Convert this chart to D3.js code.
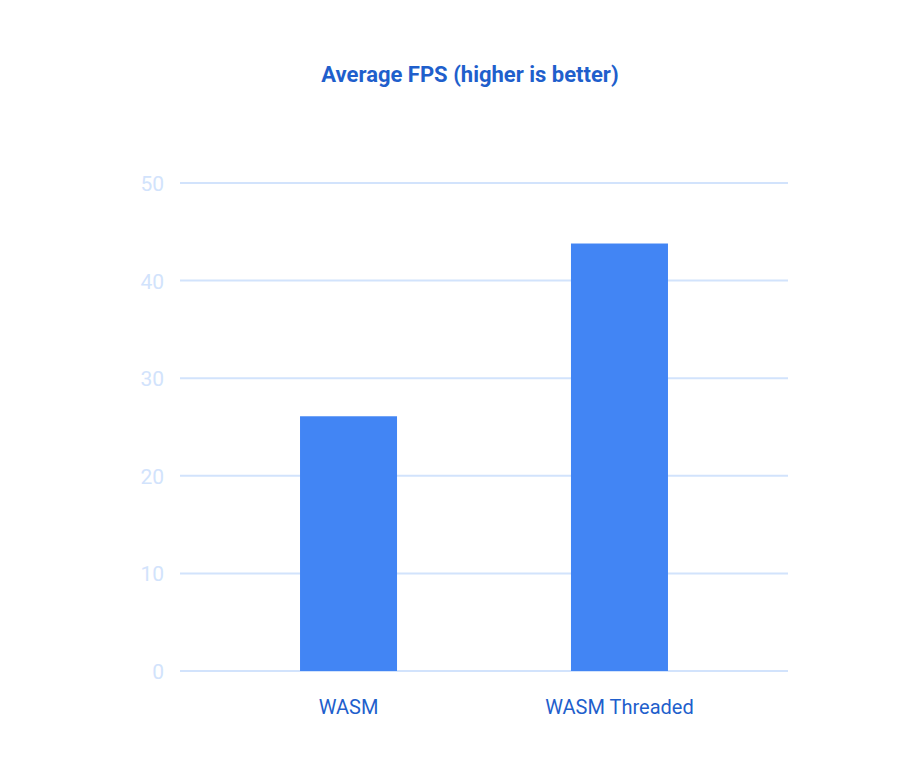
<!DOCTYPE html>
<html>
<head>
<meta charset="utf-8">
<script src="https://cdn.jsdelivr.net/npm/d3@7"></script>
<style>
  body { margin: 0; background: #fff; }
  text { font-family: Roboto, "Noto Sans", sans-serif; }
</style>
</head>
<body>
<div class="chart"></div>
<script>
const categories = ["WASM", "WASM Threaded"]
const fps = [26.1, 43.8]
const ticks = [0, 10, 20, 30, 40, 50]

const width = 920, height = 773
const plotLeft = 180, plotRight = 788, plotTop = 183, plotBottom = 671

const svg = d3.select('.chart')
    .append('svg')
    .attr('width', width)
    .attr('height', height)

const y = d3.scaleLinear().domain([0, 50]).range([plotBottom, plotTop])
const x = d3.scaleBand()
    .domain(categories)
    .range([plotLeft, plotRight])
    .paddingInner(0.642)
    .paddingOuter(0.443)

// title
svg.append('text')
    .attr('x', 470)
    .attr('y', 82)
    .attr('text-anchor', 'middle')
    .attr('font-size', 22)
    .attr('font-weight', 'bold')
    .attr('fill', '#1f5fcc')
    .text('Average FPS (higher is better)')

// gridlines
svg.selectAll('line.grid')
    .data(ticks)
    .enter()
    .append('line')
    .attr('x1', plotLeft)
    .attr('x2', plotRight)
    .attr('y1', d => y(d))
    .attr('y2', d => y(d))
    .attr('stroke', '#d2e3fc')
    .attr('stroke-width', 2)

svg.selectAll('text.tick')
    .data(ticks)
    .enter()
    .append('text')
    .attr('x', 164)
    .attr('y', d => y(d) + 8)
    .attr('text-anchor', 'end')
    .attr('font-size', 21)
    .attr('fill', '#d2e3fc')
    .text(d => d)

// bars
svg.selectAll('rect')
    .data(fps)
    .enter()
    .append('rect')
    .attr('x', (d, i) => x(categories[i]))
    .attr('y', d => y(d))
    .attr('width', x.bandwidth())
    .attr('height', d => y(0) - y(d))
    .attr('fill', '#4285f4')

svg.selectAll('text.cat')
    .data(categories)
    .enter()
    .append('text')
    .attr('x', d => x(d) + x.bandwidth() / 2)
    .attr('y', 714)
    .attr('text-anchor', 'middle')
    .attr('font-size', 20)
    .attr('fill', '#1f5fcc')
    .text(d => d)
</script>
</body>
</html>
